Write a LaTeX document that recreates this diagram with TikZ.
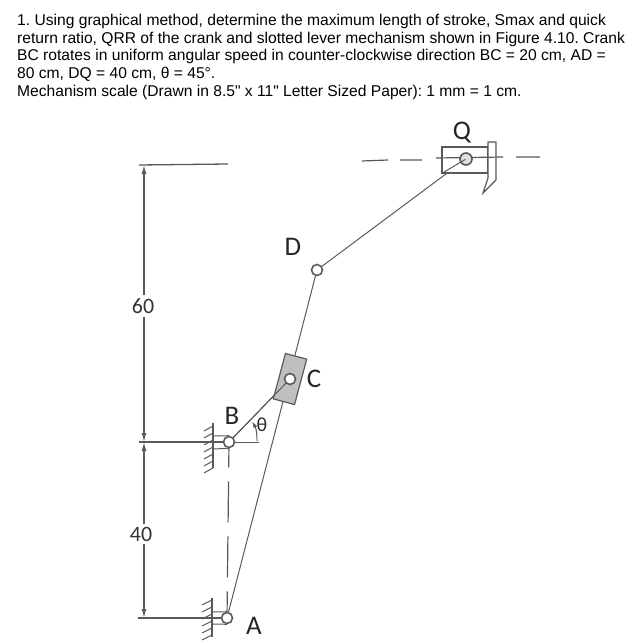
\documentclass[tikz,border=0pt]{standalone}
\usepackage{fontspec}
\newfontfamily\probfont{Liberation Sans}
\newfontfamily\labfont{Carlito}
\usetikzlibrary{arrows.meta}
\definecolor{linegray}{gray}{0.35}
\tikzset{
  lnk/.style={draw=linegray,line width=1pt},
  dimline/.style={draw=linegray,line width=1.3pt},
  pin/.style={circle,draw=linegray,line width=1.6pt,minimum size=11bp,inner sep=0pt},
  lab/.style={font=\labfont\fontsize{27}{27}\selectfont,text=black!85,inner sep=0pt},
  dimlab/.style={font=\labfont\fontsize{22}{22}\selectfont,text=black!80,inner sep=3pt,fill=white},
  slider/.style={draw=linegray,line width=1.2pt,inner sep=0pt}
}
\begin{document}
\begin{tikzpicture}[>={Latex[length=9bp,width=5bp]},x=1bp,y=-1bp]
\useasboundingbox (0,0) rectangle (632,643);
\node[anchor=north west,align=left,inner sep=0pt,font=\probfont\fontsize{15.68}{17.7}\selectfont\frenchspacing] (prob) at (17,14)
 {1. Using graphical method, determine the maximum length of stroke, Smax and quick\\
  return ratio, QRR of the crank and slotted lever mechanism shown in Figure 4.10. Crank\\
  BC rotates in uniform angular speed in counter-clockwise direction BC = 20 cm, AD =\\
  80 cm, DQ = 40 cm, θ = 45°.\\
  Mechanism scale (Drawn in 8.5" x 11" Letter Sized Paper): 1 mm = 1 cm.};
\coordinate (dimT) at (144,165);
\coordinate (dimB) at (144,442);
\coordinate (dimA) at (144,618);
\coordinate (extT) at (228,164);
\coordinate (extTl) at (139,165);
\coordinate (extBl) at (139,442);
\coordinate (extAl) at (138,618);
\coordinate (thE) at (259,442);
\node[dimlab] (d60) at (143,306) {60};
\node[dimlab] (d40) at (141,534) {40};
% lever and crank first, the sliders sit on top
\node[pin] (A) at (227,618) {};
\node[pin] (B) at (229,442) {};
\node[pin,fill=white] (D) at (317,270) {};
\node[minimum size=1pt,inner sep=0pt] (C) at (290,379) {};
\node[minimum size=1pt,inner sep=0pt] (Q) at (466,159) {};
\draw[lnk] (A) -- (D);
\draw[lnk] (D) -- (Q);
\draw[lnk] (B) -- (C);
\draw[dimline,->] (d60.north -| dimT) -- (dimT);
\draw[dimline,->] (d60.south -| dimT) -- (dimB);
\draw[dimline,->] (d40.north -| dimT) -- (dimB);
\draw[dimline,->] (d40.south -| dimT) -- (dimA);
\draw[dimline] (extTl) -- (extT);
\draw[dimline] (extBl) -- (B);
\draw[dimline] (extAl) -- (A);
\draw[lnk] (B) -- (thE);
\draw[lnk,line width=1.2pt,dash pattern=on 41bp off 14bp,dash phase=22bp] (B) -- (A);
% slider at C
\node[slider,fill=gray!50,rotate=-15,minimum width=22bp,minimum height=47bp] (sC) at (290,379) {};
\draw[lnk] (sC.center) -- (B);
\node[pin,fill=white,minimum size=11bp] (pC) at (C) {};
% slider at Q with tool
\node[slider,fill=white,minimum width=46bp,minimum height=26bp] (sQ) at (465,160) {};
\draw[slider,fill=white] (488,142) -- (496,142) -- (496,180) -- (483,193) -- (488,178) -- cycle;
\draw[lnk,line width=1.2pt] (362,161) -- (388,160) (400,160) -- (422,160) (436,158) -- (503,157) (516,157) -- (540,157);
\node[pin,fill=gray!25,minimum size=12bp] (pQ) at (Q) {};
\draw[lnk] (sQ.south west) -- (Q);
% walls
\draw[slider] (213,423) -- (213,468);
\foreach \y in {426,433,...,468} \draw[lnk] (204,\y+5) -- (213,\y);
\draw[slider] (212,598) -- (212,637);
\foreach \y in {600,607,...,635} \draw[lnk] (202,\y+5) -- (212,\y);
\draw[lnk] (213,436) -- (B.north) (213,449) -- (B.south);
\draw[lnk] (212,612) -- (A.north) (212,624) -- (A.south);
% theta
\coordinate (thA) at (257,441);
\coordinate (thC) at (252,421);
\draw[lnk,->,>={Latex[length=7bp,width=4bp]}] (thA) to[bend right=15] (thC);
\node[lab] (lQ) at (462,133) {Q};
\node[lab] (lD) at (293,247) {D};
\node[lab] (lC) at (314,379) {C};
\node[lab] (lB) at (232,416) {B};
\node[lab] (lA) at (254,626) {A};
\node[lab,font=\labfont\fontsize{20}{20}\selectfont] (lth) at (262,425) {θ};
\end{tikzpicture}
\end{document}
